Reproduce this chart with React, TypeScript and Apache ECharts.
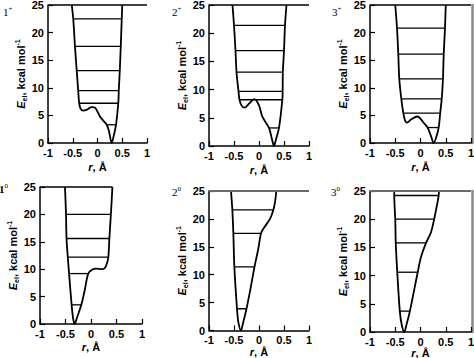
import React, { useEffect, useRef } from "react";
import * as echarts from "echarts";

// ---- data (r in Å, E in kcal/mol) ----
const panelLabels = ["1", "2", "3", "1", "2", "3"];
const panelCharges = ["+", "+", "+", "0", "0", "0"];

const curveR1 = [-0.52, -0.49, -0.455, -0.42, -0.39, -0.37, -0.34, -0.29, -0.2, -0.12, -0.05, 0.05, 0.12, 0.186, 0.23, 0.287, 0.33, 0.374, 0.42, 0.43, 0.45, 0.47, 0.49, 0.5];
const curveE1 = [25, 22.5, 17.5, 13.1, 9.5, 7.2, 6.2, 5.85, 6.1, 6.5, 6.4, 4.8, 4.0, 3.3, 2.2, 0, 1.4, 3.3, 7.2, 9.5, 13.1, 17.5, 22.5, 25];
const levelE1 = [3.3, 7.2, 9.5, 13.1, 17.5, 22.5];
const levelL1 = [0.186, -0.37, -0.39, -0.42, -0.455, -0.49];
const levelR1 = [0.374, 0.42, 0.43, 0.45, 0.47, 0.49];

const curveR2 = [-0.53, -0.5, -0.47, -0.45, -0.41, -0.39, -0.35, -0.29, -0.2, -0.12, -0.09, 0.0, 0.067, 0.2, 0.26, 0.3, 0.34, 0.4, 0.467, 0.473, 0.477, 0.5, 0.52, 0.55];
const curveE2 = [25, 21.4, 16.9, 13.1, 9.7, 8.2, 7.2, 6.8, 7.5, 8.2, 8.3, 7.2, 5.2, 3.2, 1.2, 0, 1.2, 3.2, 8.2, 9.7, 13.1, 16.9, 21.4, 25];
const levelE2 = [3.2, 8.2, 9.7, 13.1, 16.9, 21.4];
const levelL2 = [0.2, -0.39, -0.41, -0.45, -0.47, -0.5];
const levelR2 = [0.4, 0.467, 0.473, 0.477, 0.5, 0.52];

const curveR3 = [-0.5, -0.465, -0.44, -0.42, -0.38, -0.34, -0.31, -0.27, -0.18, -0.06, 0.06, 0.14, 0.21, 0.26, 0.31, 0.36, 0.39, 0.42, 0.445, 0.46, 0.485, 0.5];
const curveE3 = [25, 20.8, 16.1, 11.6, 8.0, 5.4, 4.2, 3.7, 4.3, 4.8, 3.7, 2.8, 1.2, 0, 1.0, 2.8, 5.4, 8.0, 11.6, 16.1, 20.8, 25];
const levelE3 = [2.8, 5.4, 8.0, 11.6, 16.1, 20.8];
const levelL3 = [0.14, -0.34, -0.38, -0.42, -0.44, -0.465];
const levelR3 = [0.36, 0.39, 0.42, 0.445, 0.46, 0.485];

const curveR4 = [-0.51, -0.49, -0.48, -0.455, -0.43, -0.38, -0.35, -0.32, -0.28, -0.19, -0.12, -0.055, 0.02, 0.1, 0.2, 0.27, 0.31, 0.34, 0.36, 0.39, 0.42];
const curveE4 = [25, 20, 15.6, 12.2, 9.2, 3.5, 1.0, 0, 1.0, 3.5, 6.3, 9.2, 9.9, 10.1, 10.0, 10.2, 11, 12.2, 15.6, 20, 25];
const levelE4 = [3.5, 9.2, 12.2, 15.6, 20];
const levelL4 = [-0.38, -0.43, -0.455, -0.48, -0.49];
const levelR4 = [-0.19, -0.055, 0.34, 0.36, 0.39];

const curveR5 = [-0.56, -0.533, -0.513, -0.493, -0.44, -0.413, -0.36, -0.32, -0.25, -0.17, -0.09, -0.013, 0.04, 0.107, 0.22, 0.287, 0.32, 0.347];
const curveE5 = [25, 21.6, 17.4, 11.4, 3.9, 1.5, 0, 1.3, 3.9, 7.5, 11.4, 14.7, 17.4, 18.5, 20, 21.6, 23, 25];
const levelE5 = [3.9, 11.4, 17.4, 21.6];
const levelL5 = [-0.44, -0.493, -0.513, -0.533];
const levelR5 = [-0.25, -0.09, 0.04, 0.287];

const curveR6 = [-0.52, -0.52, -0.5, -0.49, -0.46, -0.41, -0.37, -0.32, -0.28, -0.21, -0.055, 0.01, 0.11, 0.208, 0.27, 0.32, 0.36, 0.365];
const curveE6 = [25, 24.2, 20, 15.8, 10.6, 3.7, 1.2, 0, 1.2, 3.7, 10.6, 13.3, 15.8, 17.7, 20, 22.2, 24.2, 25];
const levelE6 = [3.7, 10.6, 15.8, 20, 24.2];
const levelL6 = [-0.41, -0.46, -0.49, -0.5, -0.52];
const levelR6 = [-0.21, -0.055, 0.11, 0.27, 0.36];

const curvesR = [curveR1, curveR2, curveR3, curveR4, curveR5, curveR6];
const curvesE = [curveE1, curveE2, curveE3, curveE4, curveE5, curveE6];
const levelsE = [levelE1, levelE2, levelE3, levelE4, levelE5, levelE6];
const levelsL = [levelL1, levelL2, levelL3, levelL4, levelL5, levelL6];
const levelsR = [levelR1, levelR2, levelR3, levelR4, levelR5, levelR6];
const topLineEnd = [1, 1, 1, 0.42, 1, 1];

// ---- layout ----
const grids = [
  { left: 48, top: 5, width: 99, height: 138 },
  { left: 209, top: 5, width: 100, height: 141 },
  { left: 370, top: 5, width: 101, height: 138 },
  { left: 40, top: 187, width: 102, height: 137 },
  { left: 209, top: 191, width: 100, height: 139.5 },
  { left: 370, top: 191, width: 101, height: 141 },
];
const xNameGap = [18, 18, 18, 17, 14, 13];
const labelPos = [
  [3, 5], [172, 5], [332, 5], [-1, 182], [172, 185], [331, 185],
];

const FONT = "Liberation Sans, Arial, sans-serif";
const SERIF = "Liberation Serif, Times New Roman, serif";

export default function App() {
  const ref = useRef<HTMLDivElement>(null);
  useEffect(() => {
    if (!ref.current) return;
    const chart = echarts.init(ref.current, undefined, { renderer: "svg" });
    const grid: any[] = [];
    const xAxis: any[] = [];
    const yAxis: any[] = [];
    const series: any[] = [];
    const graphic: any[] = [];
    for (let p = 0; p < 6; p++) {
      grid.push({ ...grids[p], containLabel: false, outerBoundsMode: "none" });
      xAxis.push({
        type: "value",
        gridIndex: p,
        min: -1,
        max: 1,
        interval: 0.5,
        splitLine: { show: false },
        axisLine: { onZero: false, lineStyle: { color: "#000", width: 1.5 } },
        axisTick: { inside: true, length: 5, lineStyle: { color: "#000", width: 1.2 } },
        axisLabel: {
          margin: 4,
          color: "#000",
          fontSize: 11,
          fontWeight: "bold",
          fontFamily: FONT,
          formatter: (v: number) => String(v),
          showMinLabel: true,
          showMaxLabel: true,
        },
        name: "{i|r}{n|, Å}",
        nameLocation: "middle",
        nameGap: xNameGap[p],
        nameTextStyle: {
          rich: {
            i: { fontStyle: "italic", fontWeight: "bold", fontSize: 11, fontFamily: FONT, color: "#000" },
            n: { fontWeight: "bold", fontSize: 11, fontFamily: FONT, color: "#000" },
          },
        },
      });
      yAxis.push({
        type: "value",
        gridIndex: p,
        min: 0,
        max: 25,
        interval: 5,
        splitLine: { show: false },
        axisLine: { onZero: false, lineStyle: { color: "#000", width: 1.5 } },
        axisTick: { inside: true, length: 5, lineStyle: { color: "#000", width: 1.2 } },
        axisLabel: {
          margin: 4,
          color: "#000",
          fontSize: 11,
          fontWeight: "bold",
          fontFamily: FONT,
          showMinLabel: true,
          showMaxLabel: true,
        },
        name: "{e|E}{sub|el}{n|, kcal mol}{sup|-1}",
        nameLocation: "middle",
        nameRotate: 90,
        nameGap: 20,
        nameTextStyle: {
          rich: {
            e: { fontStyle: "italic", fontWeight: "bold", fontSize: 11, fontFamily: FONT, color: "#000" },
            sub: { fontWeight: "bold", fontSize: 7, fontFamily: FONT, color: "#000", padding: [7, 0, 0, 0] },
            n: { fontWeight: "bold", fontSize: 11, fontFamily: FONT, color: "#000" },
            sup: { fontWeight: "bold", fontSize: 7, fontFamily: FONT, color: "#000", padding: [0, 0, 7, 0] },
          },
        },
      });
      // potential curve
      series.push({
        type: "line",
        xAxisIndex: p,
        yAxisIndex: p,
        data: curvesR[p].map((r, i) => [r, curvesE[p][i]]),
        smooth: 0.3,
        showSymbol: false,
        clip: false,
        lineStyle: { color: "#000", width: 1.8 },
      });
      // vibrational levels
      levelsE[p].forEach((e, i) => {
        series.push({
          type: "line",
          xAxisIndex: p,
          yAxisIndex: p,
          data: [[levelsL[p][i], e], [levelsR[p][i], e]],
          showSymbol: false,
          clip: false,
          lineStyle: { color: "#000", width: 1.3 },
        });
      });
      // top frame line
      const grey = p >= 4;
      series.push({
        type: "line",
        xAxisIndex: p,
        yAxisIndex: p,
        data: [[-1, 25], [topLineEnd[p], 25]],
        showSymbol: false,
        clip: false,
        lineStyle: { color: grey ? "#6a6a6a" : "#000", width: grey ? 2 : 1.5 },
      });
      graphic.push({
        type: "text",
        x: labelPos[p][0],
        y: labelPos[p][1],
        style: {
          text: `{a|${panelLabels[p]}}{s|${panelCharges[p]}}`,
          rich: {
            a: { fontFamily: SERIF, fontSize: 11, fill: "#000", fontWeight: p === 3 ? "bold" : "normal" },
            s: { fontFamily: SERIF, fontSize: 7, fill: "#000", padding: [0, 0, 6, 0] },
          },
        },
      });
    }
    // grey right-hand frame edges of the rightmost panels
    [2, 5].forEach((p) => {
      yAxis.push({
        type: "value",
        gridIndex: p,
        position: "right",
        offset: 1,
        min: 0,
        max: 25,
        interval: 5,
        splitLine: { show: false },
        axisLine: { show: true, onZero: false, lineStyle: { color: "#8a8a8a", width: 2.5 } },
        axisTick: { show: false },
        axisLabel: { show: false },
      });
    });
    chart.setOption({
      animation: false,
      backgroundColor: "#fff",
      grid,
      xAxis,
      yAxis,
      series,
      graphic,
    });
    return () => chart.dispose();
  }, []);
  return (
    <div
      ref={ref}
      style={{ position: "fixed", left: 0, top: 0, width: 474, height: 358, background: "#fff" }}
    />
  );
}
